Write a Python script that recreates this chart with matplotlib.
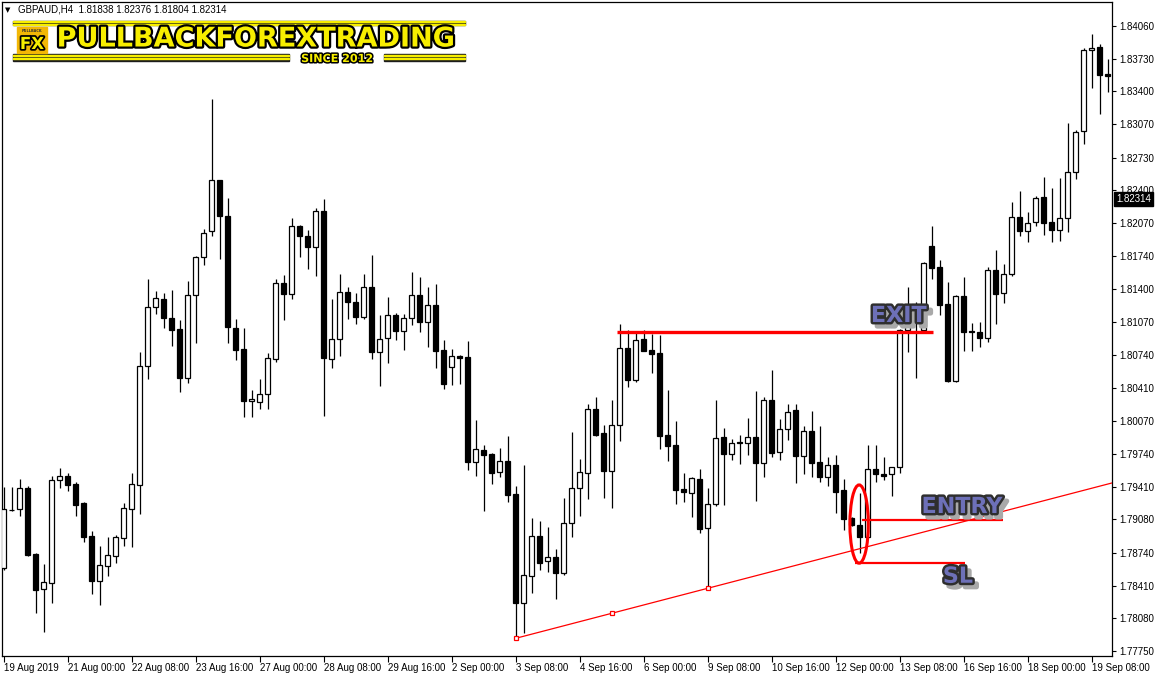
import matplotlib
matplotlib.use("Agg")
import matplotlib.pyplot as plt
import matplotlib.patheffects as pe
from matplotlib.patches import Ellipse, Rectangle

# GBPAUD H4, 19 Aug 2019 16:00 .. 19 Sep 2019
titulo = "GBPAUD,H4  1.81838 1.82376 1.81804 1.82314"

opens = [1.78585, 1.79171, 1.79181, 1.79393, 1.78727, 1.78373, 1.78434, 1.79474, 1.79514, 1.79434,
         1.79242, 1.78908, 1.78454, 1.78605, 1.78706, 1.78888, 1.79181, 1.79424, 1.80625, 1.81221,
         1.81302, 1.81110, 1.80999, 1.80504, 1.81343, 1.81726, 1.81989, 1.82504, 1.82140, 1.81009,
         1.80797, 1.80272, 1.80262, 1.80343, 1.80696, 1.81464, 1.81353, 1.82039, 1.81938, 1.81827,
         1.82191, 1.80696, 1.80898, 1.81373, 1.81272, 1.81120, 1.81423, 1.80767, 1.80908, 1.81140,
         1.80979, 1.81110, 1.81343, 1.81070, 1.81242, 1.80787, 1.80615, 1.80726, 1.80716, 1.79656,
         1.79777, 1.79737, 1.79555, 1.79666, 1.79333, 1.78232, 1.78504, 1.78908, 1.78656, 1.78696,
         1.78535, 1.79040, 1.79393, 1.79545, 1.80191, 1.79949, 1.79565, 1.80029, 1.80807, 1.80484,
         1.80898, 1.80787, 1.80757, 1.79929, 1.79828, 1.79383, 1.79343, 1.79484, 1.78989, 1.79232,
         1.79908, 1.79737, 1.79858, 1.79848, 1.79908, 1.79646, 1.80282, 1.79757, 1.79989, 1.80181,
         1.79716, 1.79969, 1.79656, 1.79504, 1.79626, 1.79373, 1.79090, 1.79019, 1.78898, 1.79585,
         1.79535, 1.79535, 1.79605, 1.80989, 1.81070, 1.80989, 1.81837, 1.81625, 1.81252, 1.80474,
         1.81332, 1.80979, 1.80969, 1.80908, 1.81595, 1.81363, 1.81555, 1.82130, 1.81989, 1.82080,
         1.82332, 1.82080, 1.81999, 1.82120, 1.82585, 1.82999, 1.83817, 1.83847, 1.83575]

highs = [1.79403, 1.79403, 1.79484, 1.79413, 1.78737, 1.78626, 1.79514, 1.79595, 1.79545, 1.79454,
         1.79252, 1.78959, 1.78807, 1.78898, 1.78918, 1.79242, 1.79545, 1.80767, 1.81504, 1.81383,
         1.81363, 1.81393, 1.81090, 1.81484, 1.81736, 1.82009, 1.83322, 1.82504, 1.82322, 1.81100,
         1.81009, 1.80383, 1.80494, 1.80757, 1.81504, 1.81545, 1.82120, 1.82050, 1.81999, 1.82221,
         1.82312, 1.81302, 1.81555, 1.81423, 1.81363, 1.81555, 1.81747, 1.81140, 1.81322, 1.81161,
         1.81151, 1.81575, 1.81524, 1.81423, 1.81454, 1.80888, 1.80797, 1.80737, 1.80878, 1.80080,
         1.79828, 1.79747, 1.79797, 1.79918, 1.79413, 1.79626, 1.79090, 1.79060, 1.78999, 1.78777,
         1.79292, 1.79959, 1.79686, 1.80242, 1.80312, 1.80029, 1.80282, 1.81049, 1.80989, 1.80959,
         1.80989, 1.80949, 1.80939, 1.80383, 1.80070, 1.79545, 1.79504, 1.79585, 1.79393, 1.80282,
         1.79999, 1.79888, 1.79929, 1.80100, 1.80373, 1.80312, 1.80585, 1.80090, 1.80242, 1.80242,
         1.80019, 1.80171, 1.80019, 1.79706, 1.79727, 1.79484, 1.79100, 1.79343, 1.79828, 1.79828,
         1.79706, 1.79605, 1.80999, 1.81423, 1.81272, 1.81676, 1.82039, 1.81696, 1.81474, 1.81343,
         1.81524, 1.81060, 1.81070, 1.81625, 1.81797, 1.81656, 1.82282, 1.82393, 1.82181, 1.82342,
         1.82534, 1.82423, 1.82524, 1.83080, 1.83009, 1.83837, 1.83979, 1.83878, 1.83726]

lows = [1.78565, 1.79161, 1.79110, 1.78706, 1.78131, 1.77940, 1.78232, 1.79393, 1.79363, 1.79110,
        1.78848, 1.78323, 1.78212, 1.78504, 1.78636, 1.78807, 1.78797, 1.79131, 1.80494, 1.81151,
        1.81009, 1.80827, 1.80363, 1.80454, 1.80858, 1.81646, 1.81938, 1.81706, 1.80858, 1.80686,
        1.80110, 1.80110, 1.80191, 1.80191, 1.80666, 1.81090, 1.81302, 1.81726, 1.81605, 1.81534,
        1.80120, 1.80605, 1.80726, 1.81100, 1.81049, 1.81100, 1.80696, 1.80424, 1.80656, 1.80888,
        1.80787, 1.81039, 1.80969, 1.80817, 1.80605, 1.80393, 1.80434, 1.80444, 1.79575, 1.79514,
        1.79161, 1.79434, 1.79504, 1.79252, 1.77878, 1.77929, 1.78333, 1.78565, 1.78545, 1.78272,
        1.78515, 1.78898, 1.79110, 1.79282, 1.79918, 1.79292, 1.79191, 1.79868, 1.80413, 1.80464,
        1.80777, 1.80555, 1.79787, 1.79666, 1.79232, 1.79252, 1.79100, 1.78939, 1.78383, 1.79211,
        1.79222, 1.79676, 1.79636, 1.79727, 1.79262, 1.79504, 1.79706, 1.79676, 1.79878, 1.79444,
        1.79535, 1.79504, 1.79454, 1.79413, 1.79141, 1.78969, 1.79009, 1.78737, 1.78898, 1.79454,
        1.79474, 1.79312, 1.79545, 1.80767, 1.80504, 1.80969, 1.81504, 1.81140, 1.80464, 1.80464,
        1.80777, 1.80777, 1.80817, 1.80868, 1.81049, 1.81262, 1.81534, 1.81938, 1.81878, 1.82039,
        1.81949, 1.81878, 1.81888, 1.81979, 1.82514, 1.82868, 1.83433, 1.83171, 1.83393]

closes = [1.79181, 1.79176, 1.79393, 1.78717, 1.78363, 1.78444, 1.79474, 1.79514, 1.79424, 1.79222,
          1.78898, 1.78454, 1.78615, 1.78717, 1.78898, 1.79191, 1.79434, 1.80625, 1.81221, 1.81312,
          1.81110, 1.80989, 1.80504, 1.81343, 1.81726, 1.81969, 1.82504, 1.82140, 1.81019, 1.80787,
          1.80272, 1.80292, 1.80343, 1.80706, 1.81464, 1.81353, 1.82039, 1.81938, 1.81827, 1.82191,
          1.80706, 1.80898, 1.81373, 1.81272, 1.81120, 1.81423, 1.80767, 1.80898, 1.81140, 1.80979,
          1.81110, 1.81343, 1.81070, 1.81242, 1.80777, 1.80444, 1.80726, 1.80706, 1.79656, 1.79787,
          1.79727, 1.79545, 1.79666, 1.79323, 1.78232, 1.78515, 1.78908, 1.78636, 1.78696, 1.78535,
          1.79040, 1.79393, 1.79555, 1.80191, 1.79929, 1.79565, 1.80029, 1.80807, 1.80484, 1.80888,
          1.80777, 1.80747, 1.79918, 1.79818, 1.79373, 1.79353, 1.79494, 1.78979, 1.79232, 1.79898,
          1.79737, 1.79848, 1.79848, 1.79908, 1.79646, 1.80282, 1.79747, 1.79989, 1.80161, 1.79716,
          1.79969, 1.79646, 1.79504, 1.79626, 1.79353, 1.79080, 1.79019, 1.78898, 1.79585, 1.79535,
          1.79514, 1.79605, 1.80989, 1.81070, 1.81110, 1.81666, 1.81615, 1.81242, 1.80474, 1.81332,
          1.80969, 1.80969, 1.80908, 1.81595, 1.81353, 1.81555, 1.82130, 1.81989, 1.82070, 1.82322,
          1.82070, 1.81999, 1.82120, 1.82585, 1.82989, 1.83817, 1.83837, 1.83564, 1.83560]

rotulos_tempo = ["19 Aug 2019", "21 Aug 00:00", "22 Aug 08:00", "23 Aug 16:00", "27 Aug 00:00",
                 "28 Aug 08:00", "29 Aug 16:00", "2 Sep 00:00", "3 Sep 08:00", "4 Sep 16:00",
                 "6 Sep 00:00", "9 Sep 08:00", "10 Sep 16:00", "12 Sep 00:00", "13 Sep 08:00",
                 "16 Sep 16:00", "18 Sep 00:00", "19 Sep 08:00"]
passo_rotulo = 8  # um rotulo a cada 8 barras

precos_eixo = [1.84060, 1.83730, 1.83400, 1.83070, 1.82730, 1.82400, 1.82070, 1.81740, 1.81400,
               1.81070, 1.80740, 1.80410, 1.80070, 1.79740, 1.79410, 1.79080, 1.78740, 1.78410,
               1.78080, 1.77750]
preco_bid = 1.82314

# linhas desenhadas no grafico
nivel_exit = 1.80970
barras_exit = (76.7, 116.2)
nivel_entry = 1.79073
barras_entry = (107.3, 124.9)
nivel_sl = 1.78638
barras_sl = (106.4, 120.2)
barras_tendencia = [64, 88]   # LTA ancorada nas minimas

W, H = 1158, 676
fig = plt.figure(figsize=(W / 100, H / 100), dpi=100)
fig.patch.set_facecolor("white")
ax = fig.add_axes([2 / W, 20 / H, 1110 / W, 654 / H])

fonte = "Liberation Sans"

n = len(opens)
xs = list(range(n))

# pavios
ax.vlines(xs, lows, highs, color="black", lw=0.9, zorder=2)

# corpos
largura = 0.56
for i in xs:
    o, c = opens[i], closes[i]
    if abs(c - o) < 0.00004:
        ax.hlines(o, i - largura / 2, i + largura / 2, color="black", lw=1.0, zorder=3)
        continue
    cor = "white" if c > o else "black"
    ax.bar(i, abs(c - o), bottom=min(o, c), width=largura, color=cor,
           edgecolor="black", linewidth=0.9, zorder=3)

# LTA (raio para a direita)
i0, i1 = barras_tendencia
p0, p1 = lows[i0], lows[i1]
incl = (p1 - p0) / (i1 - i0)
x_fim = 139.0
ax.plot([i0, x_fim], [p0, p0 + incl * (x_fim - i0)], color="red", lw=0.9, zorder=4)
meio = (i0 + i1) / 2
ax.plot([i0, meio, i1], [p0, p0 + incl * (meio - i0), p1], ls="none", marker="s", ms=3.5,
        mfc="white", mec="red", mew=0.9, zorder=5)

# niveis
ax.hlines(nivel_exit, *barras_exit, color="red", lw=2.4, zorder=4)
ax.hlines(nivel_entry, *barras_entry, color="red", lw=1.6, zorder=4)
ax.hlines(nivel_sl, *barras_sl, color="red", lw=1.6, zorder=4)
ax.add_patch(Ellipse((106.95, 1.79032), width=2.3, height=0.0079, fill=False,
                     ec="red", lw=2.2, zorder=6))

# textos EXIT / ENTRY / SL com sombra cinza
efeitos = [pe.SimplePatchShadow(offset=(3, -3), shadow_rgbFace="#a9a9a9", alpha=1.0),
           pe.Stroke(offset=(3, -3), linewidth=3.5, foreground="#a9a9a9"),
           pe.Stroke(linewidth=3.5, foreground="#2e2e2e"),
           pe.Normal()]
for txt, xb, yp in [("EXIT", 111.9, 1.81132), ("ENTRY", 119.8, 1.79204), ("SL", 119.3, 1.78500)]:
    ax.text(xb, yp, txt, ha="center", va="center", fontsize=16, fontweight="bold",
            color="#6d70b8", zorder=8, path_effects=efeitos)

ax.set_xlim(-0.1875, 138.56)
ax.set_ylim(1.77700, 1.84302)

for s in ax.spines.values():
    s.set_linewidth(0.9)
    s.set_color("black")

ax.set_xticks([k * passo_rotulo for k in range(len(rotulos_tempo))])
ax.set_xticklabels(rotulos_tempo, fontsize=7, fontfamily=fonte, ha="left")
ax.tick_params(axis="x", direction="out", length=4, width=0.8, pad=1)

ax.yaxis.tick_right()
ax.set_yticks(precos_eixo)
ax.set_yticklabels([f"{p:.5f}" for p in precos_eixo], fontsize=7, fontfamily=fonte)
ax.tick_params(axis="y", direction="out", length=3, width=0.8, pad=2)

ax.annotate(f"{preco_bid:.5f}", xy=(1.0, preco_bid), xycoords=("axes fraction", "data"),
            xytext=(3, 0), textcoords="offset points", ha="left", va="center",
            color="white", fontsize=7, fontfamily=fonte, annotation_clip=False, zorder=10,
            bbox=dict(boxstyle="square,pad=0.25", fc="black", ec="black"))

# titulo no canto
fig.text(8 / W, 1 - 10 / H, "\u25bc", fontsize=5, va="center", ha="center")
fig.text(18 / W, 1 - 10 / H, titulo, fontsize=7, fontfamily=fonte, va="center", ha="left")

# logotipo (coordenadas em pixels)
lg = fig.add_axes([0, 0, 1, 1], zorder=20)
lg.set_xlim(0, W)
lg.set_ylim(H, 0)
lg.axis("off")
amarelo = "#f7ee00"
lg.add_patch(Rectangle((13, 20.5), 452, 4.8, color="#1c1c1c"))
lg.add_patch(Rectangle((13, 20.5), 452, 1.3, color=amarelo))
lg.add_patch(Rectangle((13, 23.6), 452, 1.4, color=amarelo))
for x0, x1 in [(13, 289), (384, 465)]:
    lg.add_patch(Rectangle((x0, 54), x1 - x0, 6.5, color="#1c1c1c"))
    lg.add_patch(Rectangle((x0, 54.7), x1 - x0, 1.3, color=amarelo))
    lg.add_patch(Rectangle((x0, 57.8), x1 - x0, 1.4, color=amarelo))
lg.add_patch(Rectangle((17, 27), 30, 26, color="#f2b705"))
lg.text(32, 31, "PULLBACK", fontsize=2.5, ha="center", va="center", color="#333333",
        fontweight="bold")
lg.text(32, 44, "FX", fontsize=12, ha="center", va="center", color=amarelo, fontweight="bold",
        path_effects=[pe.withStroke(linewidth=2.5, foreground="black")])
lg.text(256, 39.5, "PULLBACKFOREXTRADING", fontsize=19.5, ha="center", va="center",
        color=amarelo, fontweight="bold",
        path_effects=[pe.withStroke(linewidth=3.2, foreground="black")])
lg.text(337, 59, "SINCE 2012", fontsize=8, ha="center", va="center", color=amarelo,
        fontweight="bold", path_effects=[pe.withStroke(linewidth=2.2, foreground="black")])

fig.savefig("out.png", dpi=100)
